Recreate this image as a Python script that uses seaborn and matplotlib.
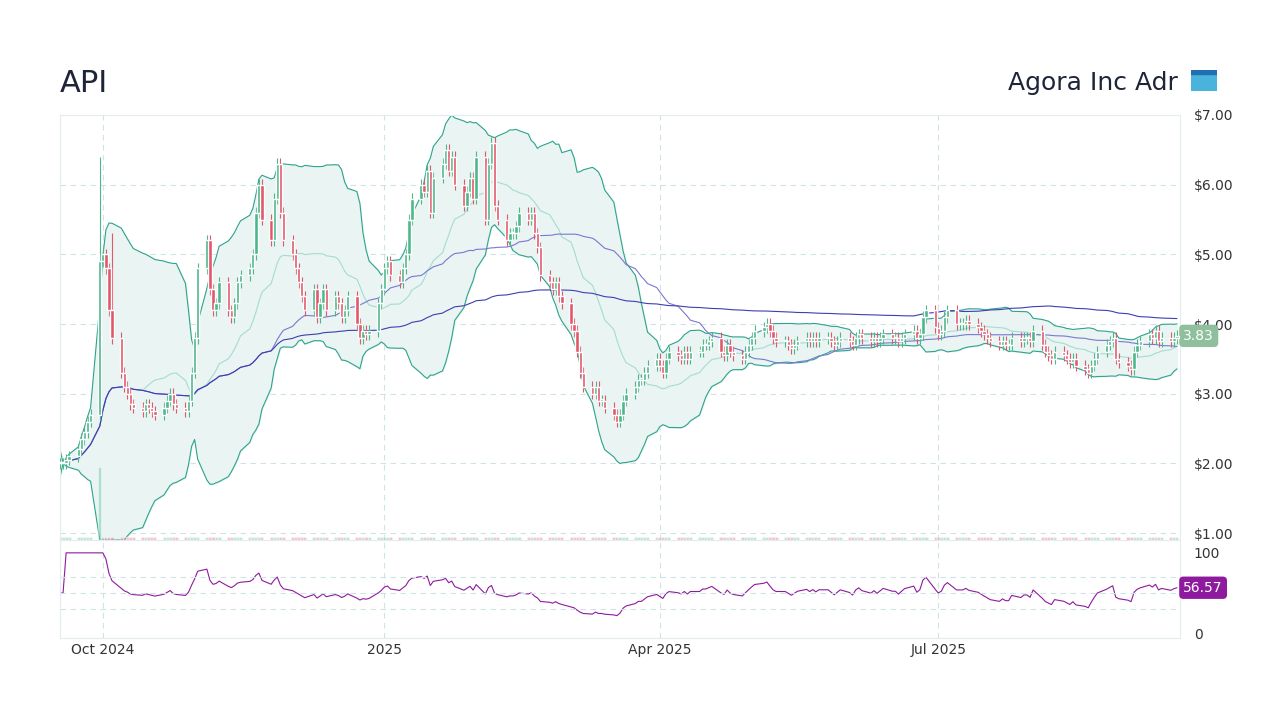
import pandas as pd
import numpy as np
import matplotlib.pyplot as plt
import matplotlib.dates as mdates
import seaborn as sns

# daily closes (Sep 2024 - Sep 2025)
closes = [
    2.0, 2.0, 2.05, 2.1, 2.2, 2.35, 2.45, 2.6, 2.7,
    4.9,
    5.0, 4.8, 4.2, 3.8, 3.3, 3.1, 3.0, 2.85, 2.8, 2.75, 2.85, 2.8, 2.75, 2.7, 2.8, 2.9, 3.0, 2.85, 2.8, 2.75, 2.9,
    3.3, 3.8, 4.8, 5.2, 4.5, 4.2, 4.3, 4.6, 4.2, 4.1, 4.3, 4.6, 4.7, 4.8, 5.0, 5.6, 6.0, 5.5, 5.2, 5.8, 6.3,
    5.6, 5.2, 5.0, 4.8, 4.6, 4.4, 4.2, 4.5, 4.1, 4.3, 4.5, 4.2, 4.4, 4.3, 4.1, 4.2, 4.4, 4.0, 3.8, 3.9, 3.85,
    3.9, 4.3, 4.5, 4.8, 4.9, 4.7, 4.6, 4.8, 5.0, 5.5, 5.8, 6.0, 5.9, 6.2, 5.6, 6.1, 6.3, 6.5, 6.2, 6.4,
    6.0, 5.7, 5.9, 6.1, 5.8, 6.4, 5.5, 6.3, 6.6, 5.7, 5.5, 5.2, 5.3, 5.3, 5.4, 5.6, 5.5, 5.6, 5.3,
    5.1, 4.7, 4.6, 4.5, 4.6, 4.4, 4.3, 4.0, 3.9, 3.6, 3.3, 3.1, 3.0, 3.1, 2.9, 2.9, 2.8, 2.7, 2.6, 2.7, 2.9,
    3.0, 3.1, 3.2, 3.2, 3.3, 3.4, 3.5, 3.4, 3.3, 3.5, 3.6, 3.55, 3.5, 3.6, 3.5, 3.6, 3.6, 3.7, 3.7, 3.75, 3.8,
    3.6, 3.55,
    3.7, 3.6, 3.55, 3.5, 3.6, 3.7, 3.8, 3.9, 3.95, 4.0, 3.9, 3.8, 3.75, 3.75, 3.7, 3.65, 3.7, 3.75, 3.8, 3.75, 3.8,
    3.75, 3.8,
    3.8, 3.75, 3.7, 3.75, 3.8, 3.75, 3.7, 3.8, 3.85, 3.8, 3.75, 3.8, 3.75, 3.8, 3.85, 3.8, 3.8, 3.75, 3.8, 3.85, 3.9,
    3.8, 3.85,
    4.1, 4.2, 3.95, 3.85, 3.9, 4.1, 4.2, 4.0, 4.0, 4.0, 4.05, 4.0, 3.95, 3.9, 3.85, 3.8, 3.75, 3.7, 3.75, 3.7, 3.7, 3.8,
    3.75, 3.8,
    3.8, 3.75, 3.9, 3.7, 3.6, 3.55, 3.5, 3.6, 3.55, 3.5, 3.45, 3.5, 3.4, 3.35, 3.3, 3.4, 3.5, 3.6, 3.7, 3.75, 3.8,
    3.5, 3.45, 3.4,
    3.35, 3.6, 3.7, 3.75, 3.85, 3.8, 3.9, 3.75, 3.8, 3.75, 3.8, 3.83,
]
spike_highs = {9: 6.4, 13: 5.3}
volumes_big = {9: 1.95}  # volume bar top in $-axis units, the Oct 1 spike

dates = pd.bdate_range(end='2025-09-17', periods=len(closes))
df = pd.DataFrame({'date': dates, 'close': closes})
df['open'] = df['close'].shift(1).fillna(df['close'].iloc[0])
df['high'] = df[['open', 'close']].max(axis=1) + 0.08
df['low'] = df[['open', 'close']].min(axis=1) - 0.08
for i, h in spike_highs.items():
    df.loc[i, 'high'] = h
df['low'] = df['low'].clip(lower=1.0)

mid = df['close'].rolling(20, min_periods=1).mean()
sd = df['close'].rolling(20, min_periods=2).std().fillna(0.1)
df['upper'] = mid + 2 * sd
df['lower'] = (mid - 2 * sd).clip(lower=0.9)
df['mid'] = mid
df['sma50'] = df['close'].rolling(50, min_periods=1).mean()
df['sma200'] = df['close'].rolling(200, min_periods=1).mean()
delta = df['close'].diff().fillna(0)
gain = delta.clip(lower=0).ewm(alpha=1 / 14).mean()
loss = (-delta.clip(upper=0)).ewm(alpha=1 / 14).mean()
rsi = 100 - 100 / (1 + gain / (loss + 1e-9))
rsi[(gain + loss) < 1e-6] = 50
df['rsi'] = rsi

sns.set_style('white')
plt.rcParams['font.family'] = ['DejaVu Sans']

fig = plt.figure(figsize=(12.8, 7.2), dpi=100)
ax = fig.add_axes([60 / 1280, 1 - 540 / 720, 1120 / 1280, 425 / 720])
ax2 = fig.add_axes([60 / 1280, 1 - 638 / 720, 1120 / 1280, 98 / 720], sharex=ax)

green, red = '#4cb88a', '#e0586a'
x = mdates.date2num(df['date'])
up = df['close'] >= df['open']
cols = np.where(up, green, red)

ax.fill_between(x, df['lower'], df['upper'], color='#e9f4f3', zorder=1)
sns.lineplot(x=x, y=df['upper'], ax=ax, color='#2ea38c', lw=0.8, zorder=2)
sns.lineplot(x=x, y=df['lower'], ax=ax, color='#2ea38c', lw=0.8, zorder=2)
sns.lineplot(x=x, y=df['mid'], ax=ax, color='#a6dcd0', lw=0.8, zorder=2)
sns.lineplot(x=x, y=df['sma50'], ax=ax, color='#7a78d0', lw=0.8, zorder=3)
sns.lineplot(x=x, y=df['sma200'], ax=ax, color='#3d3fb0', lw=0.8, zorder=3)

# volume bars along the bottom
vol = np.full(len(df), 0.04)
for i, v in volumes_big.items():
    vol[i] = v - 0.9
ax.bar(x, vol, bottom=0.9, width=1.0, color=cols, alpha=0.4, zorder=2)

ax.vlines(x, df['low'], df['high'], color=cols, lw=0.8, zorder=4)
body_lo = df[['open', 'close']].min(axis=1)
body_h = (df['close'] - df['open']).abs().clip(lower=0.02)
ax.bar(x, body_h, bottom=body_lo, width=1.1, color=cols, zorder=5)

ax.set_ylim(0.9, 7.0)
xl = mdates.date2num(pd.to_datetime(['2024-09-17', '2025-09-18']))
ax.set_xlim(xl[0], xl[1])
ax.yaxis.tick_right()
ax.set_yticks(np.arange(1, 8))
ax.set_yticklabels([f'${v:.2f}' for v in range(1, 8)])
ax.tick_params(axis='y', length=0, labelsize=10, colors='#333333', pad=10)
ax.tick_params(axis='x', labelbottom=False, length=0)
ax.grid(True, color='#cfe3e6', ls=(0, (5, 4)), lw=0.8)
ax.set_ylabel('')
for s in ax.spines.values():
    s.set_color('#e3ecef')
ax.text(1.003, (3.83 - 0.9) / 6.1, '3.83', transform=ax.transAxes, va='center', ha='left',
        fontsize=10, color='white', bbox=dict(boxstyle='round,pad=0.3', fc='#8fbf9d', ec='none'))

sns.lineplot(x=x, y=df['rsi'], ax=ax2, color='#8e1a9e', lw=0.8)
ax2.set_ylim(-6, 116)
ax2.yaxis.tick_right()
ax2.set_yticks([0, 100])
ax2.tick_params(axis='y', length=0, labelsize=10, colors='#333333', pad=10)
for lv in [30, 50, 70]:
    ax2.axhline(lv, color='#cfe3e6', ls=(0, (5, 4)), lw=0.8)
ax2.grid(True, axis='x', color='#cfe3e6', ls=(0, (5, 4)), lw=0.8)
ax2.set_ylabel('')
for s in ax2.spines.values():
    s.set_color('#e3ecef')
ax2.text(1.003, (df['rsi'].iloc[-1] + 6) / 122, f"{df['rsi'].iloc[-1]:.2f}", transform=ax2.transAxes,
         va='center', ha='left', fontsize=10, color='white',
         bbox=dict(boxstyle='round,pad=0.3', fc='#8e1a9e', ec='none'))

ticks = pd.to_datetime(['2024-10-01', '2025-01-01', '2025-04-01', '2025-07-01'])
ax2.set_xticks(mdates.date2num(ticks))
ax2.set_xticklabels(['Oct 2024', '2025', 'Apr 2025', 'Jul 2025'])
ax2.tick_params(axis='x', length=0, labelsize=10, colors='#333333')
ax.set_xticks(mdates.date2num(ticks))

fig.text(60 / 1280, 1 - 83 / 720, 'API', fontsize=22, color='#1f2538', va='center')
fig.text(1178 / 1280, 1 - 83 / 720, 'Agora Inc Adr', fontsize=18, color='#1f2538', va='center', ha='right')
icon = fig.add_axes([1191 / 1280, 1 - 91 / 720, 26 / 1280, 21 / 720])
icon.add_patch(plt.Rectangle((0, 0), 1, 1, color='#4ab3dc'))
icon.add_patch(plt.Rectangle((0, 0.8), 1, 0.2, color='#1f6fb5'))
icon.axis('off')

fig.savefig('out.png', dpi=100)
